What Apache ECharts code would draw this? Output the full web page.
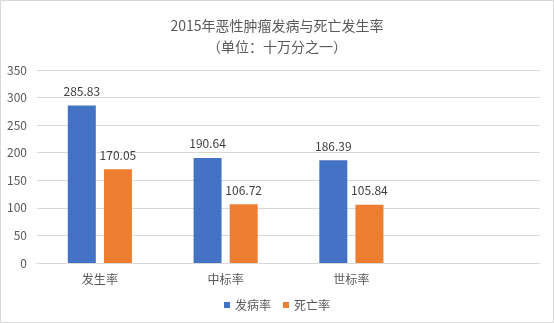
<!DOCTYPE html>
<html>
<head>
<meta charset="utf-8">
<script src="https://cdn.jsdelivr.net/npm/echarts@6/dist/echarts.min.js"></script>
<style>
  html, body { margin: 0; padding: 0; background: #fff; }
  #main { width: 554px; height: 323px; }
</style>
</head>
<body>
<div id="main"></div>
<script>
var categories = ['发生率', '中标率', '世标率', '']
var incidence = [285.83, 190.64, 186.39, null]
var mortality = [170.05, 106.72, 105.84, null]
var seriesNames = ['发病率', '死亡率']

var font = '"Microsoft YaHei", "Noto Sans CJK SC", sans-serif'
var myChart = echarts.init(document.getElementById('main'))

var option = {
  animation: false,
  textStyle: { fontFamily: font },
  graphic: [
    {
      type: 'rect',
      shape: { x: 0.5, y: 0.5, width: 553, height: 322 },
      style: { fill: 'none', stroke: '#d9d9d9', lineWidth: 1 },
    },
  ],
  title: {
    text: '2015年恶性肿瘤发病与死亡发生率\n（单位：十万分之一）',
    left: 'center',
    top: 10,
    textStyle: {
      fontSize: 14,
      fontWeight: 'normal',
      color: '#595959',
      lineHeight: 21,
      fontFamily: font,
    },
  },
  legend: {
    data: seriesNames,
    bottom: 7,
    left: 'center',
    itemWidth: 6,
    itemHeight: 6,
    itemGap: 12,
    icon: 'rect',
    textStyle: { fontSize: 12, color: '#595959', fontFamily: font },
  },
  grid: {
    left: 37,
    right: 14,
    top: 70,
    bottom: 60,
  },
  xAxis: {
    type: 'category',
    data: categories,
    axisLine: { lineStyle: { color: '#d9d9d9' } },
    axisTick: { show: false },
    axisLabel: { color: '#595959', fontSize: 12, margin: 10 },
  },
  yAxis: {
    type: 'value',
    min: 0,
    max: 350,
    interval: 50,
    axisLine: { show: false },
    axisTick: { show: false },
    axisLabel: { color: '#595959', fontSize: 12, margin: 10 },
    splitLine: { lineStyle: { color: '#d9d9d9' } },
  },
  series: [
    {
      name: seriesNames[0],
      type: 'bar',
      data: incidence,
      barWidth: 28,
      barGap: '29%',
      itemStyle: { color: '#4472c4' },
      label: {
        show: true,
        position: 'top',
        distance: 8,
        color: '#404040',
        fontSize: 12,
        formatter: function (p) { return p.value.toFixed(2) },
      },
    },
    {
      name: seriesNames[1],
      type: 'bar',
      data: mortality,
      barWidth: 28,
      itemStyle: { color: '#ed7d31' },
      label: {
        show: true,
        position: 'top',
        distance: 8,
        color: '#404040',
        fontSize: 12,
        formatter: function (p) { return p.value.toFixed(2) },
      },
    },
  ],
}

myChart.setOption(option)
</script>
</body>
</html>
